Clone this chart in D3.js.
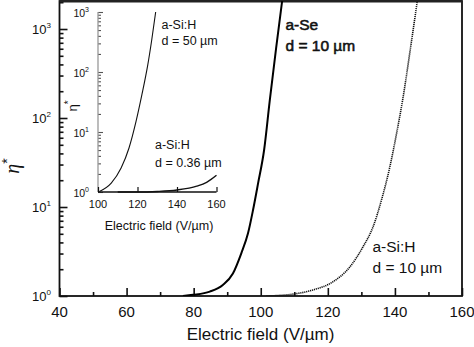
<!DOCTYPE html>
<html><head><meta charset="utf-8">
<script src="https://cdn.jsdelivr.net/npm/d3@7"></script>
<style>
body{margin:0;background:#fff}
svg{display:block}
text{font-family:"Liberation Sans",Arial,Helvetica,sans-serif;fill:#111}
</style>
</head><body>
<svg id="c" width="474" height="347"></svg>
<script>
// ---- data ----
const seField  = [76.8, 79.8, 84.8, 88.7, 91.7, 94.2, 96.2, 97.7, 99.2, 101.0, 102.7, 104.6, 106.4];
const seEta    = [1.0, 1.03, 1.12, 1.33, 1.79, 3.02, 5.06, 9.25, 18.4, 43.7, 159, 617, 2100];
const si10Field = [101.7, 109.6, 115.6, 121.6, 126.6, 130.5, 133.5, 136.0, 138.5, 140.5, 142.3, 144.7, 146.7];
const si10Eta   = [1.0, 1.05, 1.17, 1.45, 2.13, 3.58, 6.01, 12.0, 28.4, 67.3, 159, 631, 2100];
const si50Field = [100.7, 106.7, 111.7, 115.7, 119.2, 122.2, 125.2, 127.2, 129.2];
const si50Eta   = [1.02, 1.41, 2.51, 5.41, 14.7, 41.4, 131, 341, 1000];
const si036Field = [110, 120, 130, 140, 150, 155, 160];
const si036Eta   = [1.0, 1.0, 1.02, 1.08, 1.25, 1.45, 1.9];

const xTicks = [40, 60, 80, 100, 120, 140, 160];
const xMinor = [50, 70, 90, 110, 130, 150];
const yTicks = [1, 10, 100, 1000];
const yExp = ["0", "1", "2", "3"];
const insetXTicks = [100, 120, 140, 160];
const insetYTicks = [1, 10, 100, 1000];

const svg = d3.select("#c");

// ---- main scales ----
const x = d3.scaleLinear().domain([40, 160]).range([59.5, 462]);
const y = d3.scaleLog().domain([1, 2064]).range([296, 1]);

function minorLog(maxDec, top) {
  const out = [];
  for (let d = 0; d <= maxDec; d++) for (let k = 2; k <= 9; k++) {
    const v = k * Math.pow(10, d); if (v <= top) out.push(v);
  }
  return out;
}

svg.append("clipPath").attr("id", "clipMain").append("rect")
  .attr("x", x(40)).attr("y", y(2064)).attr("width", x(160) - x(40)).attr("height", y(1) - y(2064));

// main y axis ticks (inward)
const gy = svg.append("g").attr("transform", `translate(${x(40)},0)`);
gy.call(d3.axisLeft(y).tickValues(yTicks).tickSize(-8).tickFormat(""));
gy.append("g").call(d3.axisLeft(y).tickValues(minorLog(3, 2064)).tickSize(-4).tickFormat(""));
gy.selectAll(".domain").remove();
gy.selectAll("line").attr("stroke", "#111").attr("stroke-width", 1.6);

yTicks.forEach((v, i) => {
  const t = svg.append("text").attr("x", 51).attr("y", y(v) + 4.5)
    .attr("text-anchor", "end").style("font-size", "13px");
  t.append("tspan").text("10");
  t.append("tspan").attr("dy", -6).style("font-size", "8px").text(yExp[i]);
});

// main x axis ticks (inward)
const gx = svg.append("g").attr("transform", `translate(0,${y(1)})`);
gx.call(d3.axisBottom(x).tickValues(xTicks).tickSize(-8).tickFormat(""));
gx.append("g").call(d3.axisBottom(x).tickValues(xMinor).tickSize(-4).tickFormat(""));
gx.selectAll(".domain").remove();
gx.selectAll("line").attr("stroke", "#111").attr("stroke-width", 1.6);
xTicks.forEach(v => {
  svg.append("text").attr("x", x(v)).attr("y", 317).attr("text-anchor", "middle")
    .style("font-size", "15px").text(v);
});

// frame
svg.append("rect").attr("x", x(40)).attr("y", y(2064)).attr("width", x(160) - x(40))
  .attr("height", y(1) - y(2064)).attr("fill", "none").attr("stroke", "#111").attr("stroke-width", 1.8);
svg.append("line").attr("x1", x(40)).attr("x2", x(160)).attr("y1", y(2064)).attr("y2", y(2064))
  .attr("stroke", "#222").attr("stroke-width", 3);

// main curves
const mainLine = d3.line().x(d => x(d[0])).y(d => y(d[1])).curve(d3.curveMonotoneX);
svg.append("path").attr("clip-path", "url(#clipMain)")
  .attr("d", mainLine(d3.zip(seField, seEta)))
  .attr("fill", "none").attr("stroke", "#000").attr("stroke-width", 2);
svg.append("path").attr("clip-path", "url(#clipMain)")
  .attr("d", mainLine(d3.zip(si10Field, si10Eta)))
  .attr("fill", "none").attr("stroke", "#111").attr("stroke-width", 1.6)
  .attr("stroke-dasharray", "1.2,0.8");

// axis titles
svg.append("text").attr("x", 260.5).attr("y", 340).attr("text-anchor", "middle")
  .style("font-size", "17px").text("Electric field (V/\u00b5m)");
const yl = svg.append("text").attr("transform", "translate(19,166) rotate(-90)")
  .attr("text-anchor", "middle").style("font-size", "20px");
yl.append("tspan").style("font-family", "'Liberation Serif',serif").style("font-style", "italic").text("\u03b7");
yl.append("tspan").attr("dy", -7).style("font-size", "14px").text("*");

// main annotations
function label(xp, yp, lines, size, gap, heavy) {
  lines.forEach((s, i) => {
    const t = svg.append("text").attr("x", xp).attr("y", yp + i * gap)
      .style("font-size", size + "px").text(s);
    if (heavy) t.attr("stroke", "#111").attr("stroke-width", 0.55);
  });
}
label(285.5, 29.5, ["a-Se", "d = 10 \u00b5m"], 15.5, 21.5, true);
label(372.5, 251.5, ["a-Si:H", "d = 10 \u00b5m"], 15.5, 21.5, false);

// ---- inset ----
const xi = d3.scaleLinear().domain([100, 160]).range([98, 216.5]);
const yi = d3.scaleLog().domain([1, 1000]).range([192, 12]);

const giy = svg.append("g").attr("transform", `translate(${xi(100)},0)`);
giy.call(d3.axisLeft(yi).tickValues(insetYTicks).tickSize(-5).tickFormat(""));
giy.append("g").call(d3.axisLeft(yi).tickValues(minorLog(2, 1000)).tickSize(-3).tickFormat(""));
giy.selectAll(".domain").remove();
giy.selectAll("line").attr("stroke", "#555").attr("stroke-width", 1.1);
svg.append("line").attr("x1", xi(100)).attr("x2", xi(100)).attr("y1", yi(1000)).attr("y2", yi(1))
  .attr("stroke", "#999").attr("stroke-width", 1.3);

insetYTicks.forEach((v, i) => {
  const t = svg.append("text").attr("x", 89).attr("y", yi(v) + 4.5)
    .attr("text-anchor", "end").style("font-size", "10.5px");
  t.append("tspan").text("10");
  t.append("tspan").attr("dy", -5).style("font-size", "7px").text(yExp[i]);
});

const gix = svg.append("g").attr("transform", `translate(0,${yi(1)})`);
gix.call(d3.axisBottom(xi).tickValues(insetXTicks).tickSize(-5).tickFormat(""));
gix.selectAll(".domain").attr("stroke", "#111").attr("stroke-width", 1.3).attr("d", `M${xi(100)},0H${xi(160)}`);
gix.selectAll("line").attr("stroke", "#111").attr("stroke-width", 1.2);
insetXTicks.forEach(v => {
  svg.append("text").attr("x", xi(v)).attr("y", 208).attr("text-anchor", "middle")
    .style("font-size", "11px").text(v);
});

svg.append("text").attr("x", 159).attr("y", 230).attr("text-anchor", "middle")
  .style("font-size", "12.5px").text("Electric field (V/\u00b5m)");
const yil = svg.append("text").attr("transform", "translate(77,106) rotate(-90)")
  .attr("text-anchor", "middle").style("font-size", "13px");
yil.append("tspan").text("\u03b7");
yil.append("tspan").attr("dy", -5).style("font-size", "10px").text("*");

const insetLine = d3.line().x(d => xi(d[0])).y(d => yi(d[1])).curve(d3.curveMonotoneX);
svg.append("path").attr("d", insetLine(d3.zip(si50Field, si50Eta)))
  .attr("fill", "none").attr("stroke", "#111").attr("stroke-width", 1.1);
svg.append("path").attr("d", insetLine(d3.zip(si036Field, si036Eta)))
  .attr("fill", "none").attr("stroke", "#111").attr("stroke-width", 1.4);

label(161.5, 28.5, ["a-Si:H", "d = 50 \u00b5m"], 12.5, 16.5, false);
label(155, 148.5, ["a-Si:H", "d = 0.36 \u00b5m"], 12.5, 18, false);
</script>
</body></html>
